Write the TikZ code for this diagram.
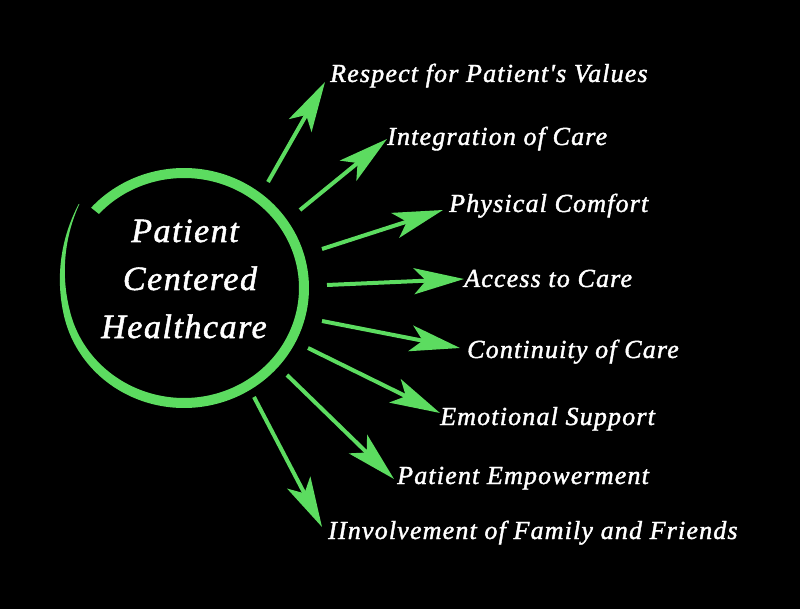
\documentclass[tikz,border=0pt]{standalone}
\usepackage{fontspec}
\setmainfont{Liberation Serif}
\newfontfamily\lblfont[LetterSpace=4.5,FakeBold=1.5]{Liberation Serif}
\usetikzlibrary{arrows.meta}
\definecolor{lgreen}{RGB}{92,220,96}
\begin{document}
\begin{tikzpicture}[x=1pt,y=1pt,
  lbl/.style={text=white, anchor=base west, inner sep=0pt, font=\lblfont\itshape\fontsize{26}{30}\selectfont},
  ttl/.style={text=white, anchor=base, inner sep=0pt, font=\lblfont\itshape\fontsize{34}{40}\selectfont},
  arr/.style={draw=lgreen, line width=4pt, -{Stealth[length=50pt,width=26pt,inset=12pt]}},
  declare function={ang(\x)=138-358*\x; sc(\x)=1+0.14*(max(0,(\x-0.85)/0.15))^2; wd(\x)=10-9.4*(max(0,(\x-0.65)/0.35))^2;}]
\fill[black] (0,0) rectangle (800,-609);
\useasboundingbox (0,0) rectangle (800,-609);
% ring
\coordinate (hub) at (184,-288);
\fill[lgreen] plot[domain=0:1,samples=300,variable=\x] ({184+(120*sc(\x)+wd(\x)/2)*cos(ang(\x))},{-288+(115*sc(\x)+wd(\x)/2)*sin(ang(\x))})
  -- plot[domain=1:0,samples=300,variable=\x] ({184+(120*sc(\x)-wd(\x)/2)*cos(ang(\x))},{-288+(115*sc(\x)-wd(\x)/2)*sin(ang(\x))}) -- cycle;
% title
\node[ttl] (ti1) at (185,-242) {Patient};
\node[ttl] (ti2) at (190,-290) {Centered};
\node[ttl] (ti3) at (184,-338) {Healthcare};
% labels
\node[lbl] (t1) at (330,-82) {Respect for Patient's Values};
\node[lbl] (t2) at (387,-145) {Integration of Care};
\node[lbl] (t3) at (449,-212) {Physical Comfort};
\node[lbl] (t4) at (464,-287) {Access to Care};
\node[lbl] (t5) at (467,-358) {Continuity of Care};
\node[lbl] (t6) at (440,-425) {Emotional Support};
\node[lbl] (t7) at (397,-484) {Patient Empowerment};
\node[lbl] (t8) at (328,-539) {IInvolvement of Family and Friends};
% arrow ends
\coordinate (s1) at (268,-182); \coordinate (e1) at (325,-82);
\coordinate (s2) at (300,-210); \coordinate (e2) at (387,-139);
\coordinate (s3) at (322,-249); \coordinate (e3) at (443,-210);
\coordinate (s4) at (327,-285); \coordinate (e4) at (464,-279);
\coordinate (s5) at (322,-321); \coordinate (e5) at (460,-348);
\coordinate (s6) at (308,-348); \coordinate (e6) at (440,-413);
\coordinate (s7) at (287,-375); \coordinate (e7) at (394,-479);
\coordinate (s8) at (254,-397); \coordinate (e8) at (322,-527);
\foreach \i in {1,...,8} {\draw[arr] (s\i) -- (e\i);}
\end{tikzpicture}
\end{document}
